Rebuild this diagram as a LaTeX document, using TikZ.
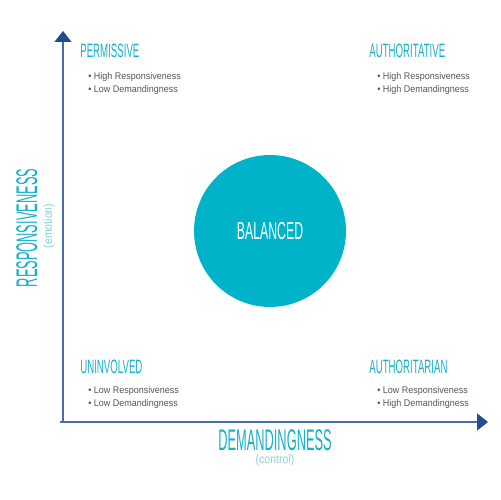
\documentclass[tikz,border=0pt]{standalone}
\usepackage{fontspec}
\setmainfont{Liberation Sans}
\newfontfamily\condfont[FakeStretch=0.5]{Liberation Sans}
\newfontfamily\axisfont[FakeStretch=0.43]{Liberation Sans}
\newfontfamily\notefont[FakeStretch=0.86]{Liberation Sans}
\newfontfamily\listfont[FakeStretch=0.93]{Liberation Sans}
\usepackage{tikz}
\usetikzlibrary{arrows.meta,positioning}
\definecolor{styleteal}{HTML}{17B1C9}
\definecolor{circteal}{HTML}{00B3C9}
\definecolor{noteteal}{HTML}{86D3D6}
\definecolor{listgray}{HTML}{555555}
\definecolor{axisline}{HTML}{4670A8}
\definecolor{axisdark}{HTML}{1F4F8F}

\begin{document}
\begin{tikzpicture}[
  x=0.02cm, y=0.02cm,
  quad/.style={font=\condfont\fontsize{11}{13}\selectfont, text=styleteal, anchor=base west, inner sep=0pt},
  item/.style={font=\listfont\fontsize{5.5}{7}\selectfont, text=listgray, anchor=base west, inner sep=0pt},
  axislabel/.style={font=\axisfont\fontsize{17}{20}\selectfont, text=styleteal, anchor=base, inner sep=0pt},
  axisnote/.style={font=\notefont\fontsize{7}{8}\selectfont, text=noteteal, anchor=base, inner sep=0pt},
  axis/.style={draw=axisline, line width=0.85pt,
               -{Triangle[length=0.22cm, width=0.34cm, color=axisdark]}},
  mid/.style={circle, fill=circteal, minimum size=3.04cm, inner sep=0pt,
              font=\condfont\fontsize{14}{16}\selectfont, text=white},
]
\useasboundingbox (0,0) rectangle (500,500);

% axes
\coordinate (origin) at (63,77);
\coordinate (xstart) at (60,78);
\coordinate (ytip) at (63,469);
\coordinate (xtip) at (488,78);
\draw[axis] (origin) -- (ytip);
\draw[axis] (xstart) -- (xtip);

% axis labels
\node[axislabel] (demand) at (275,50) {DEMANDINGNESS};
\node[axisnote] (control) at (275,36) {(control)};
\node[axislabel, rotate=90] (respons) at (37,272) {RESPONSIVENESS};
\node[axisnote, rotate=90] (emotion) at (52,274) {(emotion)};

% centre
\node[mid] (balanced) at (270,269) {BALANCED};

% quadrants
\node[quad] (permissive) at (80,442) {PERMISSIVE};
\node[item] (perm1) at (88,420) {\textbullet\ High Responsiveness};
\node[item] (perm2) at (88,407) {\textbullet\ Low Demandingness};

\node[quad] (authoritative) at (369,442) {AUTHORITATIVE};
\node[item] (authv1) at (377,420) {\textbullet\ High Responsiveness};
\node[item] (authv2) at (377,407) {\textbullet\ High Demandingness};

\node[quad] (uninvolved) at (80,126) {UNINVOLVED};
\node[item] (unin1) at (88,106) {\textbullet\ Low Responsiveness};
\node[item] (unin2) at (88,93) {\textbullet\ Low Demandingness};

\node[quad] (authoritarian) at (369,126) {AUTHORITARIAN};
\node[item] (autn1) at (377,106) {\textbullet\ Low Responsiveness};
\node[item] (autn2) at (377,93) {\textbullet\ High Demandingness};
\end{tikzpicture}
\end{document}
